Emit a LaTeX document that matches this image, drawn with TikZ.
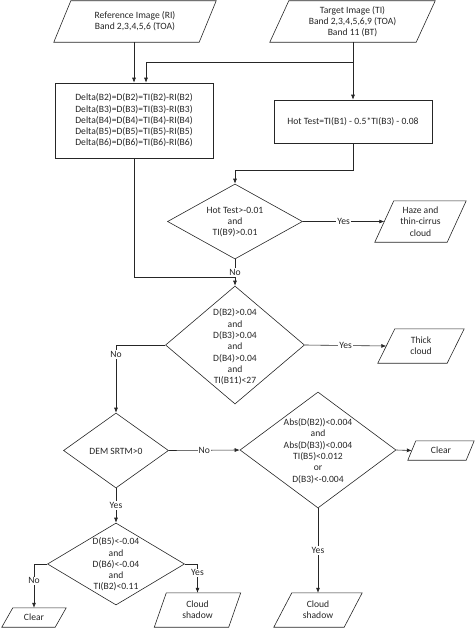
\documentclass[tikz,border=0pt]{standalone}
\usepackage{fontspec}
\setmainfont{Carlito}
\usetikzlibrary{shapes.geometric,arrows.meta,calc}
\newcommand\parashape[2]{\draw[line] ([xshift=-#2/2]#1.south west) -- ([xshift=-#2/2]#1.south east) -- ([xshift=#2/2]#1.north east) -- ([xshift=#2/2]#1.north west) -- cycle;}
\begin{document}
\begin{tikzpicture}[x=1pt,y=-1pt,
  every node/.style={font=\fontsize{9.6}{11.3}\selectfont, text=black!85},
  line/.style={draw=black!85, line width=0.6pt},
  arr/.style={line, -{Latex[length=5pt,width=4pt]}},
  box/.style={rectangle, line, inner sep=0pt, align=center},
  dia/.style={diamond, line, inner sep=0pt},
  para/.style={rectangle, inner sep=0pt, align=center},
  txt/.style={align=center, inner sep=0pt},
  lbl/.style={fill=white, inner sep=1pt}]
\useasboundingbox (0,0) rectangle (474,629);
% inputs
\node[para, minimum width=145pt, minimum height=41pt] (RI) at (135,21.5) {Reference Image (RI)\\Band 2,3,4,5,6 (TOA)};
\parashape{RI}{17}
\node[para, minimum width=146pt, minimum height=41pt] (TI) at (352.5,21.5) {Target Image (TI)\\Band 2,3,4,5,6,9 (TOA)\\Band 11 (BT)};
\parashape{TI}{19}
% process boxes
\node[box, minimum width=158pt, minimum height=75pt] (Delta) at (134,120.5) {Delta(B2)=D(B2)=TI(B2)-RI(B2)\\Delta(B3)=D(B3)=TI(B3)-RI(B3)\\Delta(B4)=D(B4)=TI(B4)-RI(B4)\\Delta(B5)=D(B5)=TI(B5)-RI(B5)\\Delta(B6)=D(B6)=TI(B6)-RI(B6)};
\node[box, minimum width=158pt, minimum height=43pt] (Hot) at (353,121.5) {Hot Test=TI(B1) - 0.5*TI(B3) - 0.08};
% decisions
\node[dia, minimum width=135pt, minimum height=75pt] (D1) at (235,221.5) {};
\node[txt] (D1t) at (235,222) {Hot Test>-0.01\\and\\TI(B9)>0.01};
\node[dia, minimum width=139pt, minimum height=118pt] (D2) at (235,345) {};
\node[txt] (D2t) at (235,347) {D(B2)>0.04\\and\\D(B3)>0.04\\and\\D(B4)>0.04\\and\\TI(B11)<27};
\node[dia, minimum width=105pt, minimum height=75pt] (DEM) at (116,450.5) {};
\node[txt] (DEMt) at (116,451) {DEM SRTM>0};
\node[dia, minimum width=156pt, minimum height=116pt] (D3) at (318,450) {};
\node[txt] (D3t) at (318,451) {Abs(D(B2))<0.004\\and\\Abs(D(B3))<0.004\\TI(B5)<0.012\\or\\D(B3)<-0.004};
\node[dia, minimum width=137pt, minimum height=82pt] (D4) at (116,564) {};
\node[txt] (D4t) at (116,564.5) {D(B5)<-0.04\\and\\D(B6)<-0.04\\and\\TI(B2)<0.11};
% outputs
\node[para, minimum width=72pt, minimum height=41pt] (Haze) at (420.5,221.5) {Haze and\\thin-cirrus\\cloud};
\parashape{Haze}{19}
\node[para, minimum width=69pt, minimum height=34pt] (Thick) at (421,346) {Thick\\cloud};
\parashape{Thick}{17}
\node[para, minimum width=58pt, minimum height=19pt] (Clear1) at (441,450.5) {Clear};
\parashape{Clear1}{8}
\node[para, minimum width=53pt, minimum height=19pt] (Clear2) at (34,617.5) {Clear};
\parashape{Clear2}{11}
\node[para, minimum width=74pt, minimum height=34pt] (CS1) at (197.5,610) {Cloud\\shadow};
\parashape{CS1}{12}
\node[para, minimum width=70pt, minimum height=34pt] (CS2) at (318,610) {Cloud\\shadow};
\parashape{CS2}{18}
% connectors
\coordinate (jTI) at (353,62);
\coordinate (jno) at (235,277);
\draw[arr] (RI.south -| Delta.north) -- (Delta.north);
\draw[arr] (TI.south -| Hot.north) -- (Hot.north);
\draw[arr] (jTI) -| ($(Delta.north)+(12,0)$);
\draw[arr] (Hot.south) -- ++(0,27) -| (D1.north);
\draw[arr] (D1.east) -- node[lbl]{Yes} (Haze.west);
\draw[line] (Delta.south) |- (jno);
\draw[arr] (D1.south) -- node[lbl]{No} (D2.north);
\draw[arr] (D2.east) -- node[lbl]{Yes} (Thick.west);
\draw[arr] (D2.west) -| node[lbl,pos=0.57]{No} (DEM.north);
\draw[arr] (DEM.east) -- node[lbl]{No} (D3.west);
\draw[arr] (D3.east) -- (Clear1.west);
\draw[arr] (D3.south) -- node[lbl]{Yes} (CS2.north);
\draw[arr] (DEM.south) -- node[lbl]{Yes} (D4.north);
\draw[arr] (D4.west) -| node[lbl,pos=0.69]{No} (Clear2.north);
\draw[arr] (D4.east) -| node[lbl,pos=0.655]{Yes} (CS1.north);
\end{tikzpicture}
\end{document}
